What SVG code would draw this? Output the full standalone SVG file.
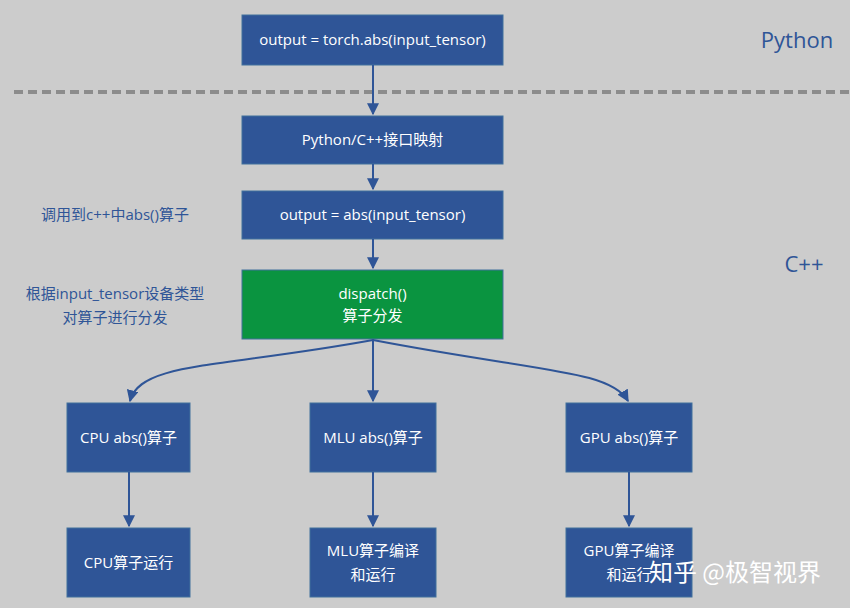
<svg xmlns="http://www.w3.org/2000/svg" width="850" height="608" viewBox="0 0 850 608">
<defs>
<style>
.b{fill:#2f5597;stroke:#41719c;stroke-width:1}
.g{fill:#0a9440;stroke:#41719c;stroke-width:1}
.t{font-family:"Open Sans","Noto Sans CJK SC",sans-serif;font-size:15px;fill:#fff;text-anchor:middle}
.l{font-family:"Open Sans","Noto Sans CJK SC",sans-serif;font-size:15px;fill:#2f5597;text-anchor:middle}
.c{fill:none;stroke:#2f5597;stroke-width:2}
</style>
<marker id="a" viewBox="0 0 10 10" refX="9" refY="5" markerWidth="6" markerHeight="6" orient="auto"><path d="M0,0L10,5L0,10z" fill="#2f5597"/></marker>
</defs>
<rect width="850" height="608" fill="#cccccc"/>
<line x1="14" y1="92" x2="850" y2="92" stroke="#8c8c8c" stroke-width="4" stroke-dasharray="9,5"/>
<text class="l" x="797" y="48" style="font-size:22px">Python</text>
<text class="l" x="804" y="272" style="font-size:22px">C++</text>
<text class="l" x="115" y="220">调用到c++中abs()算子</text>
<text class="l" x="115" y="299">根据input_tensor设备类型</text>
<text class="l" x="115" y="323">对算子进行分发</text>
<g id="n1"><rect class="b" x="242" y="15" width="261" height="50"/><text class="t" x="372.5" y="45">output = torch.abs(input_tensor)</text></g>
<g id="n2"><rect class="b" x="242" y="116" width="261" height="48"/><text class="t" x="372.5" y="145">Python/C++接口映射</text></g>
<g id="n3"><rect class="b" x="242" y="191" width="261" height="48"/><text class="t" x="372.5" y="220">output = abs(input_tensor)</text></g>
<g id="n4"><rect class="g" x="242" y="270" width="261" height="69"/><text class="t" x="372.5" y="299">dispatch()</text><text class="t" x="372.5" y="321">算子分发</text></g>
<g id="n5"><rect class="b" x="67" y="403" width="123" height="69"/><text class="t" x="128.5" y="443">CPU abs()算子</text></g>
<g id="n6"><rect class="b" x="310" y="403" width="126" height="69"/><text class="t" x="373" y="443">MLU abs()算子</text></g>
<g id="n7"><rect class="b" x="566" y="403" width="126" height="69"/><text class="t" x="629" y="443">GPU abs()算子</text></g>
<g id="n8"><rect class="b" x="67" y="528" width="123" height="69"/><text class="t" x="128.5" y="568">CPU算子运行</text></g>
<g id="n9"><rect class="b" x="310" y="528" width="126" height="69"/><text class="t" x="373" y="556">MLU算子编译</text><text class="t" x="373" y="580">和运行</text></g>
<g id="n10"><rect class="b" x="566" y="528" width="126" height="69"/><text class="t" x="629" y="556">GPU算子编译</text><text class="t" x="629" y="580">和运行</text></g>
<g id="conn">
<line class="c" x1="373" y1="65" x2="373" y2="114" marker-end="url(#a)"/>
<line class="c" x1="373" y1="164" x2="373" y2="189" marker-end="url(#a)"/>
<line class="c" x1="373" y1="239" x2="373" y2="268" marker-end="url(#a)"/>
<line class="c" x1="373" y1="339" x2="373" y2="401" marker-end="url(#a)"/>
<path class="c" d="M373,340 C220,368 140,362 130,401" marker-end="url(#a)"/>
<path class="c" d="M373,340 C540,372 610,370 628,401" marker-end="url(#a)"/>
<line class="c" x1="129" y1="472" x2="129" y2="526" marker-end="url(#a)"/>
<line class="c" x1="373" y1="472" x2="373" y2="526" marker-end="url(#a)"/>
<line class="c" x1="629" y1="472" x2="629" y2="526" marker-end="url(#a)"/>
</g>
<text x="735" y="581" style="font-family:'Noto Sans CJK SC',sans-serif;font-size:24px;fill:#fff;text-anchor:middle">知乎 @极智视界</text>
</svg>
